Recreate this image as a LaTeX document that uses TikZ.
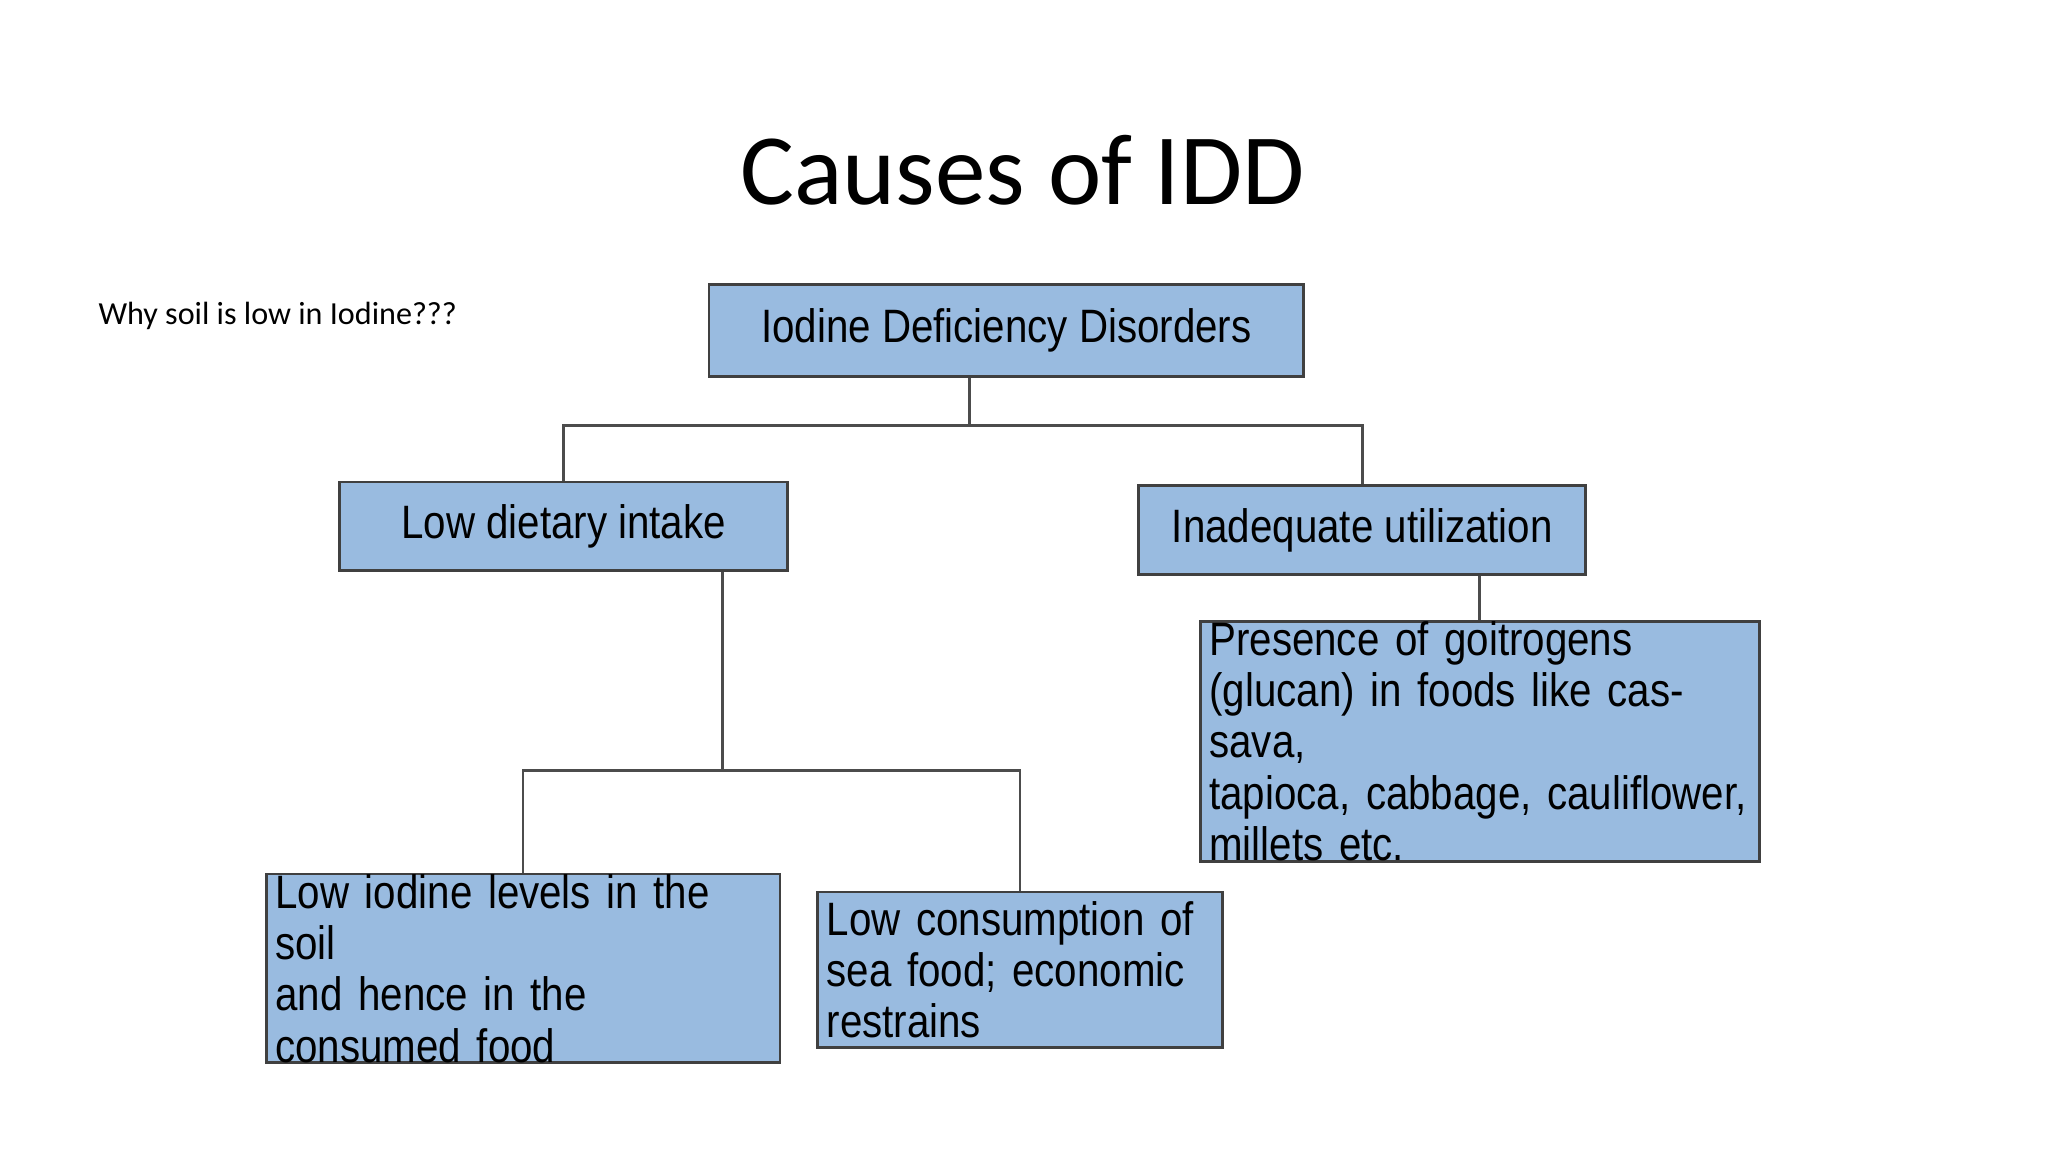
\documentclass[tikz,border=0pt]{standalone}
\usepackage{fontspec}
\setmainfont{Liberation Sans}[FakeStretch=0.86]
\newfontfamily\titlefont{Carlito}
\begin{document}
\begin{tikzpicture}[x=0.01cm,y=-0.01cm,
  bx/.style={draw=black!75,fill={rgb,255:red,153;green,187;blue,224},line width=0.6pt,inner sep=0pt,font=\fontsize{10.2}{11.2}\selectfont},
  ln/.style={draw=black!70,line width=0.6pt}]
\useasboundingbox (0,0) rectangle (1568,882);
\node[font=\titlefont\fontsize{22}{26}\selectfont] (t) at (783,130) {Causes of IDD};
\node[font=\titlefont\fontsize{7}{8}\selectfont,anchor=west] (w) at (63,242) {Why soil is low in Iodine???};
\node[bx,minimum width=4.55cm,minimum height=0.70cm] (a) at (770.5,253) {Iodine Deficiency Disorders};
\node[bx,minimum width=3.43cm,minimum height=0.68cm] (b) at (431.5,403) {Low dietary intake};
\node[bx,minimum width=3.42cm,minimum height=0.68cm] (c) at (1043,406) {Inadequate utilization};
\node[bx,minimum width=4.28cm,minimum height=1.61cm,text width=4.14cm,align=left] (d) at (1133,567.5) {Presence of goitrogens\\(glucan) in foods like cassava,\\tapioca, cabbage, cauliflower,\\millets etc.\\[4pt]};
\node[bx,minimum width=3.93cm,minimum height=1.21cm,text width=3.79cm,align=left] (e) at (400.5,741.5) {Low iodine levels in the soil\\and hence in the\\consumed food};
\node[bx,minimum width=3.10cm,minimum height=1.19cm,text width=2.96cm,align=left] (f) at (781,742.5) {Low consumption of\\sea food; economic\\restrains};
\coordinate (j1) at (742,326);
\coordinate (j2) at (553,590);
\draw[ln] (a.south -| j1) -- (j1);
\draw[ln] (b.north) |- (j1) -| (c.north);
\draw[ln] (b.south -| j2) -- (j2);
\draw[ln] (e.north) |- (j2) -| (f.north);
\draw[ln] (c.south -| d.north) -- (d.north);
\end{tikzpicture}
\end{document}
